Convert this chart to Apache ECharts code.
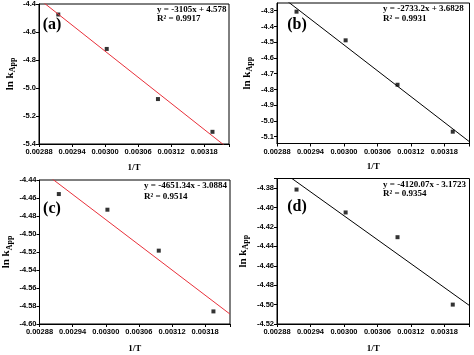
<!DOCTYPE html>
<html><head><meta charset="utf-8">
<script src="https://cdn.jsdelivr.net/npm/echarts@6/dist/echarts.min.js"></script>
<style>html,body{margin:0;padding:0;background:#fff}#c{width:474px;height:355px}</style>
</head><body><div id="c"></div>
<script>
// data
const invT = [0.002915, 0.003003, 0.003096, 0.003195];
const lnkA = [-4.475, -4.721, -5.079, -5.313];
const lnkB = [-4.306, -4.488, -4.770, -5.068];
const lnkC = [-4.4556, -4.473, -4.5185, -4.586];
const lnkD = [-4.3814, -4.405, -4.4305, -4.500];
// fitted line end points
const fitX = [0.00288, 0.003225];
const fitA = [-4.364, -5.436];
const fitB = [-4.189, -5.132];
const fitC = [-4.428, -4.589];
const fitD = [-4.359, -4.501];
// tick labels
const xStep = 0.00006;
const yTicksB = [-4.3, -4.4, -4.5, -4.6, -4.7, -4.8, -4.9, -5.0, -5.1];
const yStepA = 0.2, yStepB = 0.1, yStepC = 0.02, yStepD = 0.02;
const panelLabels = ['(a)', '(b)', '(c)', '(d)'];
const equations = ['y = -3105x + 4.578', 'y = -2733.2x + 3.6828', 'y = -4651.34x - 3.0884', 'y = -4120.07x - 3.1723'];
const r2s = ['R² = 0.9917', 'R² = 0.9931', 'R² = 0.9514', 'R² = 0.9354'];

const panels = [
  {grid:{left:39, top:3, width:190, height:141}, ymin:-5.4, ymax:-4.4, iv:yStepA, dec:1, y:lnkA, fit:fitA, col:'#e8303a',
   lab:[52,25], eq:[157,10], r2:[157,19], yGap:22, xGap:19},
  {grid:{left:277, top:3, width:192.5, height:140.5}, ymin:-5.143, ymax:-4.251, iv:yStepB, dec:1, y:lnkB, fit:fitB, col:'#000',
   lab:[297,25], eq:[383,9], r2:[383,19], yGap:23, xGap:19},
  {grid:{left:39, top:180, width:191, height:144}, ymin:-4.60, ymax:-4.44, iv:yStepC, dec:2, y:lnkC, fit:fitC, col:'#e8303a',
   lab:[52,209], eq:[144,186], r2:[144,197], yGap:26, xGap:20},
  {grid:{left:277, top:178.5, width:192.5, height:145.5}, ymin:-4.52, ymax:-4.37, iv:yStepD, dec:2, y:lnkD, fit:fitD, col:'#000',
   lab:[297,207], eq:[383,185], r2:[383,194], yGap:27, xGap:20}
];

const onStep = (v, s) => Math.abs(v / s - Math.round(v / s)) < 1e-4;
const tickFont = {fontFamily:'Liberation Sans', fontWeight:'bold', fontSize:7.5, color:'#000'};
const serif = 'Liberation Serif';
const grids = [], xAxes = [], yAxes = [], series = [], graphics = [];
panels.forEach((p, i) => {
  grids.push(Object.assign({show:true, borderColor:'#000', borderWidth:1, containLabel:false}, p.grid));
  xAxes.push({type:'value', gridIndex:i, min:0.00288, max:0.003225, interval:xStep,
    name:'1/T', nameLocation:'middle', nameGap:p.xGap,
    nameTextStyle:{fontFamily:serif, fontWeight:'bold', fontSize:9, color:'#000'},
    axisLine:{onZero:false, lineStyle:{color:'#000', width:1}},
    axisTick:{show:true, inside:false, length:3, lineStyle:{color:'#000'}},
    axisLabel:Object.assign({hideOverlap:false, margin:4,
      formatter:v => onStep(v, xStep) ? v.toFixed(5) : ''}, tickFont),
    splitLine:{show:false}});
  const ya = {type:'value', gridIndex:i, min:p.ymin, max:p.ymax,
    name:'ln k{s|App}', nameLocation:'middle', nameGap:p.yGap, nameRotate:90,
    nameTextStyle:{fontFamily:serif, fontWeight:'bold', fontSize:11, color:'#000',
      rich:{s:{fontFamily:serif, fontWeight:'bold', fontSize:8, color:'#000', verticalAlign:'bottom', padding:[6,0,0,0]}}},
    axisLine:{onZero:false, lineStyle:{color:'#000', width:1}},
    axisTick:{show:true, inside:false, length:3, lineStyle:{color:'#000'}},
    axisLabel:Object.assign({hideOverlap:false, margin:3,
      formatter:v => onStep(v, p.iv) ? v.toFixed(p.dec) : ''}, tickFont),
    splitLine:{show:false}};
  if (i === 1) {
    ya.axisTick.customValues = yTicksB;
    ya.axisLabel.customValues = yTicksB;
  } else {
    ya.interval = p.iv;
  }
  yAxes.push(ya);
  series.push({type:'line', xAxisIndex:i, yAxisIndex:i, data:fitX.map((x, k) => [x, p.fit[k]]),
    showSymbol:false, clip:true, lineStyle:{color:p.col, width:1}, silent:true, animation:false});
  series.push({type:'scatter', xAxisIndex:i, yAxisIndex:i, data:invT.map((x, k) => [x, p.y[k]]),
    symbol:'rect', symbolSize:4, itemStyle:{color:'#000'}, animation:false});
  graphics.push({type:'text', x:p.lab[0], y:p.lab[1], style:{text:panelLabels[i], font:'bold 16px "Liberation Serif"', fill:'#000', textAlign:'center', textVerticalAlign:'middle'}});
  graphics.push({type:'text', x:p.eq[0], y:p.eq[1], style:{text:equations[i], font:'bold 9px "Liberation Serif"', fill:'#000', textAlign:'left', textVerticalAlign:'middle'}});
  graphics.push({type:'text', x:p.r2[0], y:p.r2[1], style:{text:r2s[i], font:'bold 9px "Liberation Serif"', fill:'#000', textAlign:'left', textVerticalAlign:'middle'}});
});

const chart = echarts.init(document.getElementById('c'), null, {renderer:'canvas'});
chart.setOption({animation:false, backgroundColor:'#fff', grid:grids, xAxis:xAxes, yAxis:yAxes, series:series, graphic:graphics});
</script></body></html>
